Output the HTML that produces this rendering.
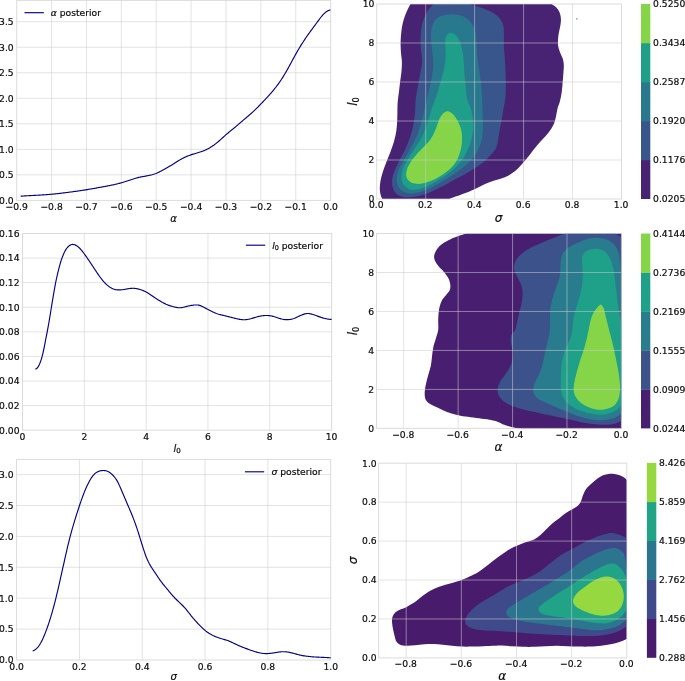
<!DOCTYPE html>
<html lang="en"><head><meta charset="utf-8"><title>Posterior distributions</title>
<style>html,body{margin:0;padding:0;background:#fff;overflow:hidden}svg{display:block}text{font-family:"DejaVu Sans", "Liberation Sans", sans-serif;fill:#0c0c0c;stroke:#0c0c0c;stroke-width:0.2px}</style>
</head><body>
<svg width="685" height="681" viewBox="0 0 685 681">
<rect width="685" height="681" fill="#fff"/>
<line x1="51.58" y1="0.4" x2="51.58" y2="200.4" stroke="#cccccc" stroke-opacity="0.55"/>
<line x1="86.46" y1="0.4" x2="86.46" y2="200.4" stroke="#cccccc" stroke-opacity="0.55"/>
<line x1="121.33" y1="0.4" x2="121.33" y2="200.4" stroke="#cccccc" stroke-opacity="0.55"/>
<line x1="156.21" y1="0.4" x2="156.21" y2="200.4" stroke="#cccccc" stroke-opacity="0.55"/>
<line x1="191.09" y1="0.4" x2="191.09" y2="200.4" stroke="#cccccc" stroke-opacity="0.55"/>
<line x1="225.97" y1="0.4" x2="225.97" y2="200.4" stroke="#cccccc" stroke-opacity="0.55"/>
<line x1="260.84" y1="0.4" x2="260.84" y2="200.4" stroke="#cccccc" stroke-opacity="0.55"/>
<line x1="295.72" y1="0.4" x2="295.72" y2="200.4" stroke="#cccccc" stroke-opacity="0.55"/>
<line x1="16.7" y1="174.87" x2="330.6" y2="174.87" stroke="#cccccc" stroke-opacity="0.55"/>
<line x1="16.7" y1="149.34" x2="330.6" y2="149.34" stroke="#cccccc" stroke-opacity="0.55"/>
<line x1="16.7" y1="123.81" x2="330.6" y2="123.81" stroke="#cccccc" stroke-opacity="0.55"/>
<line x1="16.7" y1="98.28" x2="330.6" y2="98.28" stroke="#cccccc" stroke-opacity="0.55"/>
<line x1="16.7" y1="72.75" x2="330.6" y2="72.75" stroke="#cccccc" stroke-opacity="0.55"/>
<line x1="16.7" y1="47.22" x2="330.6" y2="47.22" stroke="#cccccc" stroke-opacity="0.55"/>
<line x1="16.7" y1="21.69" x2="330.6" y2="21.69" stroke="#cccccc" stroke-opacity="0.55"/>
<rect x="16.7" y="0.4" width="313.9" height="200" fill="none" stroke="#cccccc" stroke-opacity="0.7"/>
<clipPath id="c1"><rect x="16.7" y="0.4" width="313.9" height="200"/></clipPath>
<g clip-path="url(#c1)">
<polyline points="20.68,196.16 21.45,196.11 22.23,196.06 23.01,196.02 23.78,195.97 24.56,195.92 25.34,195.88 26.11,195.83 26.89,195.79 27.67,195.75 28.44,195.7 29.22,195.66 30,195.62 30.77,195.58 31.55,195.54 32.33,195.49 33.1,195.45 33.88,195.41 34.66,195.37 35.43,195.33 36.21,195.28 36.99,195.24 37.76,195.2 38.54,195.15 39.32,195.11 40.09,195.06 40.87,195.01 41.65,194.96 42.43,194.92 43.2,194.87 43.98,194.81 44.76,194.76 45.53,194.71 46.31,194.65 47.09,194.59 47.86,194.53 48.64,194.47 49.42,194.41 50.19,194.34 50.97,194.28 51.75,194.21 52.52,194.13 53.3,194.06 54.08,193.99 54.85,193.91 55.63,193.83 56.41,193.75 57.18,193.66 57.96,193.58 58.74,193.49 59.51,193.4 60.29,193.31 61.07,193.22 61.84,193.13 62.62,193.04 63.4,192.94 64.17,192.85 64.95,192.75 65.73,192.65 66.5,192.55 67.28,192.45 68.06,192.35 68.83,192.25 69.61,192.15 70.39,192.05 71.16,191.95 71.94,191.85 72.72,191.74 73.5,191.64 74.27,191.53 75.05,191.43 75.83,191.32 76.6,191.21 77.38,191.1 78.16,190.99 78.93,190.88 79.71,190.77 80.49,190.65 81.26,190.54 82.04,190.42 82.82,190.3 83.59,190.18 84.37,190.06 85.15,189.94 85.92,189.81 86.7,189.69 87.48,189.56 88.25,189.43 89.03,189.3 89.81,189.17 90.58,189.03 91.36,188.9 92.14,188.76 92.91,188.63 93.69,188.49 94.47,188.35 95.24,188.21 96.02,188.07 96.8,187.93 97.57,187.78 98.35,187.64 99.13,187.5 99.9,187.35 100.68,187.21 101.46,187.07 102.23,186.92 103.01,186.78 103.79,186.63 104.57,186.49 105.34,186.35 106.12,186.2 106.9,186.06 107.67,185.91 108.45,185.76 109.23,185.61 110,185.46 110.78,185.3 111.56,185.15 112.33,184.99 113.11,184.82 113.89,184.66 114.66,184.48 115.44,184.31 116.22,184.13 116.99,183.94 117.77,183.75 118.55,183.55 119.32,183.34 120.1,183.13 120.88,182.92 121.65,182.69 122.43,182.46 123.21,182.22 123.98,181.98 124.76,181.73 125.54,181.48 126.31,181.22 127.09,180.96 127.87,180.71 128.64,180.45 129.42,180.19 130.2,179.93 130.97,179.68 131.75,179.43 132.53,179.18 133.31,178.93 134.08,178.7 134.86,178.46 135.64,178.24 136.41,178.02 137.19,177.82 137.97,177.62 138.74,177.43 139.52,177.25 140.3,177.09 141.07,176.93 141.85,176.78 142.63,176.63 143.4,176.49 144.18,176.35 144.96,176.21 145.73,176.07 146.51,175.93 147.29,175.78 148.06,175.63 148.84,175.47 149.62,175.3 150.39,175.13 151.17,174.94 151.95,174.74 152.72,174.52 153.5,174.29 154.28,174.04 155.05,173.78 155.83,173.49 156.61,173.18 157.38,172.85 158.16,172.49 158.94,172.13 159.71,171.74 160.49,171.34 161.27,170.93 162.04,170.51 162.82,170.08 163.6,169.65 164.38,169.21 165.15,168.77 165.93,168.33 166.71,167.89 167.48,167.44 168.26,167 169.04,166.55 169.81,166.09 170.59,165.63 171.37,165.17 172.14,164.7 172.92,164.22 173.7,163.75 174.47,163.27 175.25,162.78 176.03,162.29 176.8,161.81 177.58,161.32 178.36,160.83 179.13,160.34 179.91,159.87 180.69,159.42 181.46,158.98 182.24,158.55 183.02,158.15 183.79,157.76 184.57,157.39 185.35,157.03 186.12,156.69 186.9,156.36 187.68,156.04 188.45,155.74 189.23,155.45 190.01,155.17 190.78,154.91 191.56,154.65 192.34,154.4 193.11,154.16 193.89,153.93 194.67,153.7 195.45,153.47 196.22,153.25 197,153.02 197.78,152.79 198.55,152.55 199.33,152.31 200.11,152.06 200.88,151.8 201.66,151.53 202.44,151.25 203.21,150.96 203.99,150.65 204.77,150.33 205.54,149.99 206.32,149.63 207.1,149.25 207.87,148.86 208.65,148.44 209.43,148.01 210.2,147.55 210.98,147.07 211.76,146.57 212.53,146.05 213.31,145.51 214.09,144.95 214.86,144.37 215.64,143.78 216.42,143.16 217.19,142.53 217.97,141.87 218.75,141.21 219.52,140.53 220.3,139.83 221.08,139.14 221.85,138.43 222.63,137.73 223.41,137.02 224.19,136.32 224.96,135.62 225.74,134.94 226.52,134.26 227.29,133.6 228.07,132.95 228.85,132.3 229.62,131.66 230.4,131.03 231.18,130.4 231.95,129.76 232.73,129.13 233.51,128.5 234.28,127.86 235.06,127.22 235.84,126.57 236.61,125.91 237.39,125.25 238.17,124.59 238.94,123.92 239.72,123.25 240.5,122.58 241.27,121.91 242.05,121.24 242.83,120.58 243.6,119.91 244.38,119.26 245.16,118.6 245.93,117.95 246.71,117.29 247.49,116.63 248.26,115.97 249.04,115.31 249.82,114.63 250.59,113.95 251.37,113.26 252.15,112.56 252.92,111.84 253.7,111.11 254.48,110.37 255.26,109.62 256.03,108.86 256.81,108.09 257.59,107.32 258.36,106.53 259.14,105.75 259.92,104.95 260.69,104.16 261.47,103.35 262.25,102.55 263.02,101.74 263.8,100.93 264.58,100.11 265.35,99.29 266.13,98.46 266.91,97.62 267.68,96.78 268.46,95.93 269.24,95.07 270.01,94.2 270.79,93.32 271.57,92.43 272.34,91.53 273.12,90.61 273.9,89.67 274.67,88.72 275.45,87.74 276.23,86.74 277,85.72 277.78,84.67 278.56,83.6 279.33,82.5 280.11,81.37 280.89,80.21 281.66,79.03 282.44,77.82 283.22,76.58 283.99,75.32 284.77,74.03 285.55,72.72 286.33,71.38 287.1,70.02 287.88,68.64 288.66,67.24 289.43,65.82 290.21,64.39 290.99,62.96 291.76,61.52 292.54,60.08 293.32,58.64 294.09,57.22 294.87,55.8 295.65,54.4 296.42,53.02 297.2,51.66 297.98,50.32 298.75,49 299.53,47.7 300.31,46.42 301.08,45.16 301.86,43.92 302.64,42.71 303.41,41.51 304.19,40.33 304.97,39.17 305.74,38.03 306.52,36.9 307.3,35.78 308.07,34.68 308.85,33.58 309.63,32.5 310.4,31.42 311.18,30.36 311.96,29.29 312.73,28.23 313.51,27.18 314.29,26.12 315.06,25.07 315.84,24.02 316.62,22.97 317.4,21.91 318.17,20.85 318.95,19.79 319.73,18.75 320.5,17.74 321.28,16.75 322.06,15.81 322.83,14.92 323.61,14.09 324.39,13.33 325.16,12.63 325.94,12.01 326.72,11.46 327.49,10.98 328.27,10.59 329.05,10.29 329.82,10.07 330.6,9.95" fill="none" stroke="#00008b" stroke-width="1.15" stroke-linejoin="round"/>
</g>
<text x="16.7" y="210.3" font-size="9.2" text-anchor="middle">−0.9</text>
<text x="51.58" y="210.3" font-size="9.2" text-anchor="middle">−0.8</text>
<text x="86.46" y="210.3" font-size="9.2" text-anchor="middle">−0.7</text>
<text x="121.33" y="210.3" font-size="9.2" text-anchor="middle">−0.6</text>
<text x="156.21" y="210.3" font-size="9.2" text-anchor="middle">−0.5</text>
<text x="191.09" y="210.3" font-size="9.2" text-anchor="middle">−0.4</text>
<text x="225.97" y="210.3" font-size="9.2" text-anchor="middle">−0.3</text>
<text x="260.84" y="210.3" font-size="9.2" text-anchor="middle">−0.2</text>
<text x="295.72" y="210.3" font-size="9.2" text-anchor="middle">−0.1</text>
<text x="330.6" y="210.3" font-size="9.2" text-anchor="middle">0.0</text>
<text x="13.7" y="203.75" font-size="9.2" text-anchor="end">0.0</text>
<text x="13.7" y="178.22" font-size="9.2" text-anchor="end">0.5</text>
<text x="13.7" y="152.69" font-size="9.2" text-anchor="end">1.0</text>
<text x="13.7" y="127.16" font-size="9.2" text-anchor="end">1.5</text>
<text x="13.7" y="101.63" font-size="9.2" text-anchor="end">2.0</text>
<text x="13.7" y="76.1" font-size="9.2" text-anchor="end">2.5</text>
<text x="13.7" y="50.57" font-size="9.2" text-anchor="end">3.0</text>
<text x="13.7" y="25.04" font-size="9.2" text-anchor="end">3.5</text>
<text x="173.65" y="221.8" font-size="10.1" text-anchor="middle"><tspan font-style="italic">α</tspan></text>
<line x1="24.5" y1="12.7" x2="43.8" y2="12.7" stroke="#00008b" stroke-width="1.15"/>
<text x="50.8" y="15.7" font-size="9.2" text-anchor="start"><tspan font-style="italic">α</tspan> posterior</text>
<line x1="84.32" y1="233.5" x2="84.32" y2="430.2" stroke="#cccccc" stroke-opacity="0.55"/>
<line x1="146.14" y1="233.5" x2="146.14" y2="430.2" stroke="#cccccc" stroke-opacity="0.55"/>
<line x1="207.96" y1="233.5" x2="207.96" y2="430.2" stroke="#cccccc" stroke-opacity="0.55"/>
<line x1="269.78" y1="233.5" x2="269.78" y2="430.2" stroke="#cccccc" stroke-opacity="0.55"/>
<line x1="22.5" y1="405.61" x2="331.6" y2="405.61" stroke="#cccccc" stroke-opacity="0.55"/>
<line x1="22.5" y1="381.02" x2="331.6" y2="381.02" stroke="#cccccc" stroke-opacity="0.55"/>
<line x1="22.5" y1="356.44" x2="331.6" y2="356.44" stroke="#cccccc" stroke-opacity="0.55"/>
<line x1="22.5" y1="331.85" x2="331.6" y2="331.85" stroke="#cccccc" stroke-opacity="0.55"/>
<line x1="22.5" y1="307.26" x2="331.6" y2="307.26" stroke="#cccccc" stroke-opacity="0.55"/>
<line x1="22.5" y1="282.68" x2="331.6" y2="282.68" stroke="#cccccc" stroke-opacity="0.55"/>
<line x1="22.5" y1="258.09" x2="331.6" y2="258.09" stroke="#cccccc" stroke-opacity="0.55"/>
<rect x="22.5" y="233.5" width="309.1" height="196.7" fill="none" stroke="#cccccc" stroke-opacity="0.7"/>
<polyline points="35.42,369.1 36.16,368.85 36.9,368.32 37.65,367.5 38.39,366.39 39.13,365 39.87,363.31 40.62,361.33 41.36,359.06 42.1,356.47 42.84,353.54 43.59,350.25 44.33,346.64 45.07,342.84 45.81,338.98 46.55,335.18 47.3,331.37 48.04,327.44 48.78,323.27 49.52,318.88 50.27,314.34 51.01,309.74 51.75,305.14 52.49,300.59 53.24,296.13 53.98,291.79 54.72,287.63 55.46,283.69 56.2,280.01 56.95,276.59 57.69,273.37 58.43,270.31 59.17,267.37 59.92,264.6 60.66,262.03 61.4,259.7 62.14,257.59 62.89,255.67 63.63,253.92 64.37,252.33 65.11,250.89 65.85,249.62 66.6,248.51 67.34,247.56 68.08,246.76 68.82,246.08 69.57,245.53 70.31,245.1 71.05,244.77 71.79,244.55 72.54,244.44 73.28,244.45 74.02,244.57 74.76,244.8 75.5,245.12 76.25,245.5 76.99,245.96 77.73,246.49 78.47,247.09 79.22,247.76 79.96,248.5 80.7,249.31 81.44,250.18 82.19,251.09 82.93,252.04 83.67,253.03 84.41,254.03 85.15,255.06 85.9,256.1 86.64,257.16 87.38,258.22 88.12,259.31 88.87,260.4 89.61,261.5 90.35,262.62 91.09,263.74 91.84,264.87 92.58,266 93.32,267.13 94.06,268.26 94.8,269.4 95.55,270.52 96.29,271.64 97.03,272.75 97.77,273.84 98.52,274.92 99.26,275.97 100,277 100.74,277.99 101.49,278.96 102.23,279.9 102.97,280.79 103.71,281.65 104.45,282.46 105.2,283.23 105.94,283.96 106.68,284.64 107.42,285.28 108.17,285.88 108.91,286.44 109.65,286.96 110.39,287.44 111.14,287.87 111.88,288.27 112.62,288.62 113.36,288.92 114.1,289.19 114.85,289.41 115.59,289.58 116.33,289.72 117.07,289.82 117.82,289.89 118.56,289.92 119.3,289.93 120.04,289.9 120.79,289.86 121.53,289.79 122.27,289.7 123.01,289.6 123.75,289.48 124.5,289.36 125.24,289.22 125.98,289.09 126.72,288.95 127.47,288.82 128.21,288.7 128.95,288.59 129.69,288.49 130.44,288.41 131.18,288.35 131.92,288.31 132.66,288.29 133.4,288.3 134.15,288.34 134.89,288.41 135.63,288.5 136.37,288.62 137.12,288.76 137.86,288.92 138.6,289.1 139.34,289.3 140.09,289.51 140.83,289.74 141.57,289.99 142.31,290.26 143.05,290.55 143.8,290.86 144.54,291.2 145.28,291.56 146.02,291.94 146.77,292.35 147.51,292.78 148.25,293.23 148.99,293.7 149.74,294.2 150.48,294.7 151.22,295.22 151.96,295.75 152.7,296.27 153.45,296.79 154.19,297.3 154.93,297.8 155.67,298.29 156.42,298.76 157.16,299.23 157.9,299.7 158.64,300.15 159.39,300.6 160.13,301.05 160.87,301.48 161.61,301.91 162.35,302.33 163.1,302.73 163.84,303.12 164.58,303.5 165.32,303.86 166.07,304.21 166.81,304.53 167.55,304.84 168.29,305.13 169.04,305.4 169.78,305.65 170.52,305.89 171.26,306.11 172,306.32 172.75,306.52 173.49,306.71 174.23,306.91 174.97,307.09 175.72,307.27 176.46,307.42 177.2,307.56 177.94,307.66 178.69,307.73 179.43,307.75 180.17,307.74 180.91,307.67 181.65,307.58 182.4,307.45 183.14,307.3 183.88,307.14 184.62,306.96 185.37,306.77 186.11,306.58 186.85,306.39 187.59,306.2 188.34,306.02 189.08,305.85 189.82,305.69 190.56,305.55 191.3,305.42 192.05,305.31 192.79,305.21 193.53,305.12 194.27,305.05 195.02,305 195.76,304.96 196.5,304.95 197.24,304.98 197.99,305.05 198.73,305.17 199.47,305.35 200.21,305.58 200.95,305.87 201.7,306.2 202.44,306.56 203.18,306.94 203.92,307.33 204.67,307.73 205.41,308.13 206.15,308.52 206.89,308.92 207.64,309.31 208.38,309.69 209.12,310.07 209.86,310.44 210.6,310.81 211.35,311.18 212.09,311.54 212.83,311.9 213.57,312.25 214.32,312.6 215.06,312.93 215.8,313.25 216.54,313.55 217.29,313.83 218.03,314.08 218.77,314.3 219.51,314.5 220.25,314.68 221,314.85 221.74,315.02 222.48,315.18 223.22,315.35 223.97,315.53 224.71,315.71 225.45,315.9 226.19,316.09 226.94,316.28 227.68,316.47 228.42,316.65 229.16,316.84 229.9,317.02 230.65,317.2 231.39,317.39 232.13,317.57 232.87,317.76 233.62,317.95 234.36,318.14 235.1,318.33 235.84,318.52 236.58,318.7 237.33,318.87 238.07,319.03 238.81,319.18 239.55,319.32 240.3,319.44 241.04,319.54 241.78,319.62 242.52,319.68 243.27,319.71 244.01,319.72 244.75,319.71 245.49,319.68 246.23,319.62 246.98,319.54 247.72,319.43 248.46,319.29 249.2,319.14 249.95,318.96 250.69,318.77 251.43,318.56 252.17,318.35 252.92,318.12 253.66,317.9 254.4,317.67 255.14,317.44 255.88,317.21 256.63,317 257.37,316.79 258.11,316.6 258.85,316.42 259.6,316.26 260.34,316.11 261.08,315.97 261.82,315.85 262.57,315.75 263.31,315.66 264.05,315.58 264.79,315.53 265.53,315.49 266.28,315.47 267.02,315.48 267.76,315.51 268.5,315.56 269.25,315.64 269.99,315.74 270.73,315.87 271.47,316.01 272.22,316.17 272.96,316.35 273.7,316.55 274.44,316.76 275.18,316.98 275.93,317.21 276.67,317.45 277.41,317.69 278.15,317.94 278.9,318.18 279.64,318.42 280.38,318.64 281.12,318.86 281.87,319.05 282.61,319.22 283.35,319.36 284.09,319.48 284.83,319.57 285.58,319.64 286.32,319.67 287.06,319.68 287.8,319.67 288.55,319.62 289.29,319.55 290.03,319.46 290.77,319.33 291.52,319.17 292.26,318.97 293,318.75 293.74,318.5 294.48,318.22 295.23,317.92 295.97,317.6 296.71,317.27 297.45,316.93 298.2,316.58 298.94,316.24 299.68,315.89 300.42,315.55 301.17,315.23 301.91,314.92 302.65,314.63 303.39,314.36 304.13,314.12 304.88,313.91 305.62,313.74 306.36,313.62 307.1,313.54 307.85,313.52 308.59,313.55 309.33,313.63 310.07,313.74 310.82,313.89 311.56,314.08 312.3,314.28 313.04,314.51 313.78,314.76 314.53,315.01 315.27,315.28 316.01,315.55 316.75,315.83 317.5,316.1 318.24,316.37 318.98,316.64 319.72,316.9 320.47,317.16 321.21,317.41 321.95,317.64 322.69,317.87 323.43,318.08 324.18,318.28 324.92,318.47 325.66,318.65 326.4,318.8 327.15,318.95 327.89,319.07 328.63,319.18 329.37,319.27 330.12,319.35 330.86,319.4 331.6,319.43" fill="none" stroke="#00008b" stroke-width="1.15" stroke-linejoin="round"/>
<text x="22.5" y="440.1" font-size="9.2" text-anchor="middle">0</text>
<text x="84.32" y="440.1" font-size="9.2" text-anchor="middle">2</text>
<text x="146.14" y="440.1" font-size="9.2" text-anchor="middle">4</text>
<text x="207.96" y="440.1" font-size="9.2" text-anchor="middle">6</text>
<text x="269.78" y="440.1" font-size="9.2" text-anchor="middle">8</text>
<text x="331.6" y="440.1" font-size="9.2" text-anchor="middle">10</text>
<text x="19.5" y="433.55" font-size="9.2" text-anchor="end">0.00</text>
<text x="19.5" y="408.96" font-size="9.2" text-anchor="end">0.02</text>
<text x="19.5" y="384.38" font-size="9.2" text-anchor="end">0.04</text>
<text x="19.5" y="359.79" font-size="9.2" text-anchor="end">0.06</text>
<text x="19.5" y="335.2" font-size="9.2" text-anchor="end">0.08</text>
<text x="19.5" y="310.61" font-size="9.2" text-anchor="end">0.10</text>
<text x="19.5" y="286.03" font-size="9.2" text-anchor="end">0.12</text>
<text x="19.5" y="261.44" font-size="9.2" text-anchor="end">0.14</text>
<text x="19.5" y="236.85" font-size="9.2" text-anchor="end">0.16</text>
<text x="177.05" y="451.8" font-size="10.1" text-anchor="middle"><tspan font-style="italic">l</tspan><tspan font-size="7.07" dy="1.6">0</tspan></text>
<line x1="245.9" y1="245.2" x2="265.2" y2="245.2" stroke="#00008b" stroke-width="1.15"/>
<text x="272.2" y="248.6" font-size="9.2" text-anchor="start"><tspan font-style="italic">l</tspan><tspan font-size="6.44" dy="1.5">0</tspan><tspan dy="-1.5"> posterior</tspan></text>
<line x1="79.42" y1="459.4" x2="79.42" y2="660" stroke="#cccccc" stroke-opacity="0.55"/>
<line x1="142.24" y1="459.4" x2="142.24" y2="660" stroke="#cccccc" stroke-opacity="0.55"/>
<line x1="205.06" y1="459.4" x2="205.06" y2="660" stroke="#cccccc" stroke-opacity="0.55"/>
<line x1="267.88" y1="459.4" x2="267.88" y2="660" stroke="#cccccc" stroke-opacity="0.55"/>
<line x1="16.6" y1="629.1" x2="330.7" y2="629.1" stroke="#cccccc" stroke-opacity="0.55"/>
<line x1="16.6" y1="598.2" x2="330.7" y2="598.2" stroke="#cccccc" stroke-opacity="0.55"/>
<line x1="16.6" y1="567.3" x2="330.7" y2="567.3" stroke="#cccccc" stroke-opacity="0.55"/>
<line x1="16.6" y1="536.4" x2="330.7" y2="536.4" stroke="#cccccc" stroke-opacity="0.55"/>
<line x1="16.6" y1="505.5" x2="330.7" y2="505.5" stroke="#cccccc" stroke-opacity="0.55"/>
<line x1="16.6" y1="474.6" x2="330.7" y2="474.6" stroke="#cccccc" stroke-opacity="0.55"/>
<rect x="16.6" y="459.4" width="314.1" height="200.6" fill="none" stroke="#cccccc" stroke-opacity="0.7"/>
<polyline points="32.71,650.85 33.46,650.62 34.21,650.29 34.95,649.85 35.7,649.31 36.45,648.66 37.19,647.91 37.94,647.05 38.69,646.08 39.43,645.01 40.18,643.82 40.93,642.53 41.68,641.14 42.42,639.63 43.17,638.02 43.92,636.31 44.66,634.52 45.41,632.64 46.16,630.67 46.9,628.64 47.65,626.53 48.4,624.35 49.14,622.09 49.89,619.76 50.64,617.36 51.38,614.88 52.13,612.33 52.88,609.69 53.62,606.98 54.37,604.17 55.12,601.28 55.87,598.3 56.61,595.22 57.36,592.07 58.11,588.85 58.85,585.59 59.6,582.28 60.35,578.96 61.09,575.62 61.84,572.29 62.59,568.95 63.33,565.62 64.08,562.29 64.83,558.98 65.57,555.67 66.32,552.39 67.07,549.15 67.81,545.96 68.56,542.84 69.31,539.8 70.06,536.86 70.8,534.03 71.55,531.3 72.3,528.65 73.04,526.08 73.79,523.57 74.54,521.1 75.28,518.67 76.03,516.28 76.78,513.91 77.52,511.58 78.27,509.28 79.02,507.02 79.76,504.78 80.51,502.59 81.26,500.43 82,498.32 82.75,496.28 83.5,494.29 84.24,492.38 84.99,490.54 85.74,488.78 86.49,487.09 87.23,485.48 87.98,483.95 88.73,482.48 89.47,481.09 90.22,479.77 90.97,478.54 91.71,477.39 92.46,476.34 93.21,475.39 93.95,474.54 94.7,473.8 95.45,473.16 96.19,472.61 96.94,472.14 97.69,471.75 98.43,471.42 99.18,471.15 99.93,470.93 100.68,470.76 101.42,470.64 102.17,470.56 102.92,470.52 103.66,470.53 104.41,470.57 105.16,470.65 105.9,470.79 106.65,470.99 107.4,471.26 108.14,471.59 108.89,471.99 109.64,472.47 110.38,473.01 111.13,473.61 111.88,474.26 112.62,474.97 113.37,475.74 114.12,476.57 114.87,477.49 115.61,478.49 116.36,479.62 117.11,480.86 117.85,482.25 118.6,483.76 119.35,485.38 120.09,487.07 120.84,488.81 121.59,490.58 122.33,492.34 123.08,494.09 123.83,495.83 124.57,497.56 125.32,499.29 126.07,501.01 126.81,502.72 127.56,504.44 128.31,506.16 129.05,507.89 129.8,509.65 130.55,511.42 131.3,513.22 132.04,515.06 132.79,516.94 133.54,518.87 134.28,520.85 135.03,522.89 135.78,524.99 136.52,527.16 137.27,529.39 138.02,531.69 138.76,534.03 139.51,536.41 140.26,538.81 141,541.23 141.75,543.64 142.5,546.04 143.24,548.39 143.99,550.68 144.74,552.88 145.49,554.97 146.23,556.93 146.98,558.75 147.73,560.44 148.47,562.02 149.22,563.5 149.97,564.87 150.71,566.16 151.46,567.37 152.21,568.52 152.95,569.63 153.7,570.72 154.45,571.8 155.19,572.88 155.94,573.99 156.69,575.11 157.43,576.24 158.18,577.36 158.93,578.47 159.68,579.56 160.42,580.63 161.17,581.65 161.92,582.64 162.66,583.6 163.41,584.53 164.16,585.45 164.9,586.35 165.65,587.25 166.4,588.15 167.14,589.05 167.89,589.96 168.64,590.87 169.38,591.78 170.13,592.69 170.88,593.58 171.62,594.46 172.37,595.32 173.12,596.16 173.86,596.97 174.61,597.76 175.36,598.53 176.11,599.28 176.85,600.02 177.6,600.74 178.35,601.45 179.09,602.16 179.84,602.86 180.59,603.56 181.33,604.27 182.08,604.99 182.83,605.73 183.57,606.5 184.32,607.29 185.07,608.12 185.81,608.99 186.56,609.9 187.31,610.84 188.05,611.79 188.8,612.75 189.55,613.72 190.3,614.68 191.04,615.63 191.79,616.55 192.54,617.45 193.28,618.34 194.03,619.2 194.78,620.05 195.52,620.88 196.27,621.7 197.02,622.51 197.76,623.32 198.51,624.11 199.26,624.9 200,625.67 200.75,626.43 201.5,627.17 202.24,627.89 202.99,628.59 203.74,629.26 204.49,629.9 205.23,630.52 205.98,631.11 206.73,631.67 207.47,632.21 208.22,632.72 208.97,633.21 209.71,633.68 210.46,634.12 211.21,634.54 211.95,634.94 212.7,635.32 213.45,635.69 214.19,636.03 214.94,636.36 215.69,636.68 216.43,636.98 217.18,637.27 217.93,637.55 218.67,637.82 219.42,638.08 220.17,638.32 220.92,638.56 221.66,638.79 222.41,639 223.16,639.21 223.9,639.42 224.65,639.63 225.4,639.85 226.14,640.07 226.89,640.31 227.64,640.56 228.38,640.83 229.13,641.13 229.88,641.44 230.62,641.77 231.37,642.11 232.12,642.45 232.86,642.81 233.61,643.17 234.36,643.52 235.11,643.88 235.85,644.23 236.6,644.58 237.35,644.93 238.09,645.27 238.84,645.61 239.59,645.94 240.33,646.26 241.08,646.57 241.83,646.88 242.57,647.18 243.32,647.48 244.07,647.77 244.81,648.06 245.56,648.34 246.31,648.62 247.05,648.89 247.8,649.16 248.55,649.43 249.3,649.69 250.04,649.95 250.79,650.21 251.54,650.47 252.28,650.72 253.03,650.97 253.78,651.22 254.52,651.46 255.27,651.69 256.02,651.92 256.76,652.14 257.51,652.35 258.26,652.54 259,652.72 259.75,652.89 260.5,653.04 261.24,653.18 261.99,653.3 262.74,653.4 263.48,653.48 264.23,653.54 264.98,653.58 265.73,653.6 266.47,653.6 267.22,653.58 267.97,653.55 268.71,653.5 269.46,653.43 270.21,653.35 270.95,653.26 271.7,653.17 272.45,653.06 273.19,652.95 273.94,652.83 274.69,652.71 275.43,652.59 276.18,652.47 276.93,652.35 277.67,652.23 278.42,652.12 279.17,652.02 279.92,651.93 280.66,651.85 281.41,651.79 282.16,651.75 282.9,651.72 283.65,651.72 284.4,651.74 285.14,651.78 285.89,651.84 286.64,651.92 287.38,652.02 288.13,652.14 288.88,652.27 289.62,652.41 290.37,652.57 291.12,652.74 291.86,652.92 292.61,653.11 293.36,653.31 294.11,653.51 294.85,653.71 295.6,653.92 296.35,654.13 297.09,654.33 297.84,654.53 298.59,654.73 299.33,654.91 300.08,655.09 300.83,655.26 301.57,655.42 302.32,655.56 303.07,655.69 303.81,655.81 304.56,655.92 305.31,656.02 306.05,656.12 306.8,656.21 307.55,656.3 308.29,656.38 309.04,656.47 309.79,656.55 310.54,656.62 311.28,656.7 312.03,656.77 312.78,656.83 313.52,656.89 314.27,656.95 315.02,657 315.76,657.04 316.51,657.08 317.26,657.12 318,657.16 318.75,657.19 319.5,657.22 320.24,657.25 320.99,657.29 321.74,657.32 322.48,657.35 323.23,657.39 323.98,657.42 324.73,657.46 325.47,657.5 326.22,657.54 326.97,657.58 327.71,657.63 328.46,657.68 329.21,657.73 329.95,657.78 330.7,657.84" fill="none" stroke="#00008b" stroke-width="1.15" stroke-linejoin="round"/>
<text x="16.6" y="669.9" font-size="9.2" text-anchor="middle">0.0</text>
<text x="79.42" y="669.9" font-size="9.2" text-anchor="middle">0.2</text>
<text x="142.24" y="669.9" font-size="9.2" text-anchor="middle">0.4</text>
<text x="205.06" y="669.9" font-size="9.2" text-anchor="middle">0.6</text>
<text x="267.88" y="669.9" font-size="9.2" text-anchor="middle">0.8</text>
<text x="330.7" y="669.9" font-size="9.2" text-anchor="middle">1.0</text>
<text x="13.6" y="663.35" font-size="9.2" text-anchor="end">0.0</text>
<text x="13.6" y="632.45" font-size="9.2" text-anchor="end">0.5</text>
<text x="13.6" y="601.55" font-size="9.2" text-anchor="end">1.0</text>
<text x="13.6" y="570.65" font-size="9.2" text-anchor="end">1.5</text>
<text x="13.6" y="539.75" font-size="9.2" text-anchor="end">2.0</text>
<text x="13.6" y="508.85" font-size="9.2" text-anchor="end">2.5</text>
<text x="13.6" y="477.95" font-size="9.2" text-anchor="end">3.0</text>
<text x="173.65" y="680.3" font-size="10.1" text-anchor="middle"><tspan font-style="italic">σ</tspan></text>
<line x1="244.9" y1="471.8" x2="264.2" y2="471.8" stroke="#00008b" stroke-width="1.15"/>
<text x="271.5" y="474.8" font-size="9.2" text-anchor="start"><tspan font-style="italic">σ</tspan> posterior</text>
<clipPath id="c2"><rect x="376.7" y="4" width="244.8" height="195"/></clipPath>
<g clip-path="url(#c2)">
<path d="M413.5 -2C413 -1 411.45 2.12 410.5 4C409.55 5.88 408.72 7.35 407.8 9.3C406.88 11.25 405.83 13.42 405 15.7C404.17 17.98 403.4 20.42 402.8 23C402.2 25.58 401.77 27.92 401.4 31.2C401.03 34.48 400.67 39.05 400.6 42.7C400.53 46.35 400.78 49.85 401 53.1C401.22 56.35 401.83 59 401.9 62.2C401.97 65.4 401.7 69.05 401.4 72.3C401.1 75.55 400.5 78.52 400.1 81.7C399.7 84.88 399.4 88.02 399 91.4C398.6 94.78 397.97 98.75 397.7 102C397.43 105.25 397.48 107.8 397.4 110.9C397.32 114 397.38 117.25 397.2 120.6C397.02 123.95 396.82 127.58 396.3 131C395.78 134.42 395.08 137.6 394.1 141.1C393.12 144.6 391.68 148.52 390.4 152C389.12 155.48 387.67 158.65 386.4 162C385.13 165.35 383.8 168.9 382.8 172.1C381.8 175.3 380.9 178.32 380.4 181.2C379.9 184.08 379.72 186.97 379.8 189.4C379.88 191.83 380.5 194.25 380.9 195.8C381.3 197.35 381.52 197.33 382.2 198.7C382.88 200.07 384.53 203.12 385 204L436 203.5C438.3 202.7 446.27 199.93 449.8 198.7C453.33 197.47 454.72 197 457.2 196.1C459.68 195.2 461.8 194.45 464.7 193.3C467.6 192.15 471.3 190.7 474.6 189.2C477.9 187.7 481.2 185.75 484.5 184.3C487.8 182.85 490.98 181.68 494.4 180.5C497.82 179.32 502.13 178.38 505 177.2C507.87 176.02 509.43 174.87 511.6 173.4C513.77 171.93 515.97 170.3 518 168.4C520.03 166.5 521.83 164.28 523.8 162C525.77 159.72 527.73 157.28 529.8 154.7C531.87 152.12 534.07 149.08 536.2 146.5C538.33 143.92 540.47 141.63 542.6 139.2C544.73 136.77 547.17 134.33 549 131.9C550.83 129.47 552.47 127.03 553.6 124.6C554.73 122.17 555.13 120.03 555.8 117.3C556.47 114.57 556.9 110.92 557.6 108.2C558.3 105.48 559.3 103.8 560 101C560.7 98.2 561.35 94.62 561.8 91.4C562.25 88.18 562.43 84.73 562.7 81.7C562.97 78.67 563.22 75.98 563.4 73.2C563.58 70.42 563.92 67.43 563.8 65C563.68 62.57 563.33 60.73 562.7 58.6C562.07 56.47 560.77 54.33 560 52.2C559.23 50.07 558.42 48.08 558.1 45.8C557.78 43.52 557.95 40.78 558.1 38.5C558.25 36.22 558.6 34.38 559 32.1C559.4 29.82 560.18 27.08 560.5 24.8C560.82 22.52 561.08 20.53 560.9 18.4C560.72 16.27 560.17 13.82 559.4 12C558.63 10.18 557.58 8.83 556.3 7.5C555.02 6.17 553.42 5.58 551.7 4C549.98 2.42 546.95 -1 546 -2Z" fill="#482374"/>
<path d="M437 -3C436.38 -1.83 434.68 1.95 433.3 4C431.92 6.05 430.07 7.35 428.7 9.3C427.33 11.25 426.15 13.42 425.1 15.7C424.05 17.98 423.07 20.42 422.4 23C421.73 25.58 421.42 27.92 421.1 31.2C420.78 34.48 420.45 39.05 420.5 42.7C420.55 46.35 421.12 49.85 421.4 53.1C421.68 56.35 422.35 59 422.2 62.2C422.05 65.4 421.08 69.05 420.5 72.3C419.92 75.55 419.3 78.52 418.7 81.7C418.1 84.88 417.42 88.18 416.9 91.4C416.38 94.62 415.9 97.75 415.6 101C415.3 104.25 415.35 107.63 415.1 110.9C414.85 114.17 414.62 117.25 414.1 120.6C413.58 123.95 412.9 127.58 412 131C411.1 134.42 410.02 137.6 408.7 141.1C407.38 144.6 405.78 148.52 404.1 152C402.42 155.48 400.22 158.8 398.6 162C396.98 165.2 395.47 168.3 394.4 171.2C393.33 174.1 392.5 176.82 392.2 179.4C391.9 181.98 392.05 184.48 392.6 186.7C393.15 188.92 394.03 191.08 395.5 192.7C396.97 194.32 398.9 195.63 401.4 196.4C403.9 197.17 407.47 197.4 410.5 197.3C413.53 197.2 416.57 196.57 419.6 195.8C422.63 195.03 425.65 193.92 428.7 192.7C431.75 191.48 434.85 189.97 437.9 188.5C440.95 187.03 443.97 185.52 447 183.9C450.03 182.28 453.07 180.47 456.1 178.8C459.13 177.13 462.18 175.63 465.2 173.9C468.22 172.17 471.15 170.38 474.2 168.4C477.25 166.42 480.73 164.28 483.5 162C486.27 159.72 488.67 157.13 490.8 154.7C492.93 152.27 494.9 151.05 496.3 147.4C497.7 143.75 498.32 137.35 499.2 132.8C500.08 128.25 500.9 124.05 501.6 120.1C502.3 116.15 502.83 112.28 503.4 109.1C503.97 105.92 504.63 103.65 505 101C505.37 98.35 505.47 96.02 505.6 93.2C505.73 90.38 505.8 87.13 505.8 84.1C505.8 81.07 505.7 78.03 505.6 75C505.5 71.97 505.35 68.95 505.2 65.9C505.05 62.85 504.92 59.75 504.7 56.7C504.48 53.65 504.03 50.63 503.9 47.6C503.77 44.57 503.92 41.53 503.9 38.5C503.88 35.47 504.03 31.98 503.8 29.4C503.57 26.82 503.18 24.83 502.5 23C501.82 21.17 500.62 19.62 499.7 18.4C498.78 17.18 498.48 16.85 497 15.7C495.52 14.55 493.05 12.72 490.8 11.5C488.55 10.28 485.93 9.32 483.5 8.4C481.07 7.48 478.63 6.73 476.2 6C473.77 5.27 471.93 4.75 468.9 4C465.87 3.25 461.15 2.67 458 1.5C454.85 0.33 451.33 -2.25 450 -3Z" fill="#39568c"/>
<path d="M426.5 101C427.25 97.75 427.97 94.62 428.7 91.4C429.43 88.18 430.22 84.88 430.9 81.7C431.58 78.52 432.4 75.55 432.8 72.3C433.2 69.05 433.37 65.4 433.3 62.2C433.23 59 432.73 56.35 432.4 53.1C432.07 49.85 431.52 46.05 431.3 42.7C431.08 39.35 430.92 35.83 431.1 33C431.28 30.17 431.73 27.83 432.4 25.7C433.07 23.57 433.88 21.72 435.1 20.2C436.32 18.68 437.72 17.5 439.7 16.6C441.68 15.7 444.57 15.17 447 14.8C449.43 14.43 451.87 14.25 454.3 14.4C456.73 14.55 459.32 14.88 461.6 15.7C463.88 16.52 466.18 17.78 468 19.3C469.82 20.82 471.28 22.67 472.5 24.8C473.72 26.93 474.62 29.12 475.3 32.1C475.98 35.08 476.3 39.2 476.6 42.7C476.9 46.2 476.87 49.85 477.1 53.1C477.33 56.35 477.6 59 478 62.2C478.4 65.4 479.03 69.05 479.5 72.3C479.97 75.55 480.43 78.52 480.8 81.7C481.17 84.88 481.47 88.18 481.7 91.4C481.93 94.62 482.05 97.75 482.2 101C482.35 104.25 482.48 107.63 482.6 110.9C482.72 114.17 482.85 117.55 482.9 120.6C482.95 123.65 483.1 126.1 482.9 129.2C482.7 132.3 482.37 136 481.7 139.2C481.03 142.4 480.15 145.5 478.9 148.4C477.65 151.3 476.17 154.02 474.2 156.6C472.23 159.18 469.82 161.47 467.1 163.9C464.38 166.33 460.95 168.92 457.9 171.2C454.85 173.48 451.83 175.63 448.8 177.6C445.77 179.57 442.73 181.28 439.7 183C436.67 184.72 433.65 186.47 430.6 187.9C427.55 189.33 424.3 190.68 421.4 191.6C418.5 192.52 415.78 193.22 413.2 193.4C410.62 193.58 408.02 193.37 405.9 192.7C403.78 192.03 401.92 190.87 400.5 189.4C399.08 187.93 398.02 185.87 397.4 183.9C396.78 181.93 396.6 179.87 396.8 177.6C397 175.33 397.6 172.9 398.6 170.3C399.6 167.7 401.12 165.05 402.8 162C404.48 158.95 406.75 155.48 408.7 152C410.65 148.52 412.83 144.6 414.5 141.1C416.17 137.6 417.48 134.42 418.7 131C419.92 127.58 420.88 123.95 421.8 120.6C422.72 117.25 423.42 114.17 424.2 110.9C424.98 107.63 425.75 104.25 426.5 101Z" fill="#29798e"/>
<path d="M434.6 101C435.67 98.05 436.9 94.62 437.9 91.4C438.9 88.18 439.7 84.88 440.6 81.7C441.5 78.52 442.53 75.55 443.3 72.3C444.07 69.05 444.8 65.4 445.2 62.2C445.6 59 445.7 56.35 445.7 53.1C445.7 49.85 445.13 45.43 445.2 42.7C445.27 39.97 445.5 38.25 446.1 36.7C446.7 35.15 447.88 34.02 448.8 33.4C449.72 32.78 450.53 32.77 451.6 33C452.67 33.23 453.98 33.73 455.2 34.8C456.42 35.87 457.9 37.57 458.9 39.4C459.9 41.23 460.53 43.52 461.2 45.8C461.87 48.08 462.47 50.37 462.9 53.1C463.33 55.83 463.57 59 463.8 62.2C464.03 65.4 464.07 69.05 464.3 72.3C464.53 75.55 464.88 78.52 465.2 81.7C465.52 84.88 465.78 88.18 466.2 91.4C466.62 94.62 467 98.35 467.7 101C468.4 103.65 469.6 104.73 470.4 107.3C471.2 109.87 471.98 113.37 472.5 116.4C473.02 119.43 473.5 122.45 473.5 125.5C473.5 128.55 473.12 131.5 472.5 134.7C471.88 137.9 471.02 141.37 469.8 144.7C468.58 148.03 466.87 151.65 465.2 154.7C463.53 157.75 461.92 160.4 459.8 163C457.68 165.6 455.08 168.03 452.5 170.3C449.92 172.57 447.2 174.63 444.3 176.6C441.4 178.57 438.15 180.42 435.1 182.1C432.05 183.78 428.88 185.48 426 186.7C423.12 187.92 420.38 188.95 417.8 189.4C415.22 189.85 412.57 189.85 410.5 189.4C408.43 188.95 406.77 187.92 405.4 186.7C404.03 185.48 402.97 183.78 402.3 182.1C401.63 180.42 401.32 178.73 401.4 176.6C401.48 174.47 401.9 171.88 402.8 169.3C403.7 166.72 405.07 164.13 406.8 161.1C408.53 158.07 411.07 154.43 413.2 151.1C415.33 147.77 417.68 144.45 419.6 141.1C421.52 137.75 423.23 134.42 424.7 131C426.17 127.58 427.27 124.25 428.4 120.6C429.53 116.95 430.47 112.37 431.5 109.1C432.53 105.83 433.53 103.95 434.6 101Z" fill="#1f9e89"/>
<path d="M447.9 111.3C449.12 111.6 451.13 112.55 452.5 113.7C453.87 114.85 454.95 116.38 456.1 118.2C457.25 120.02 458.48 122.32 459.4 124.6C460.32 126.88 461.15 129.47 461.6 131.9C462.05 134.33 462.17 136.62 462.1 139.2C462.03 141.78 461.73 144.65 461.2 147.4C460.67 150.15 459.9 153.1 458.9 155.7C457.9 158.3 456.73 160.73 455.2 163C453.67 165.27 451.83 167.33 449.7 169.3C447.57 171.27 444.98 173.12 442.4 174.8C439.82 176.48 436.93 178.12 434.2 179.4C431.47 180.68 428.58 181.75 426 182.5C423.42 183.25 420.98 183.82 418.7 183.9C416.42 183.98 414.03 183.6 412.3 183C410.57 182.4 409.3 181.42 408.3 180.3C407.3 179.18 406.6 177.82 406.3 176.3C406 174.78 406.05 173.12 406.5 171.2C406.95 169.28 407.88 166.93 409 164.8C410.12 162.67 411.58 160.53 413.2 158.4C414.82 156.27 416.72 154.13 418.7 152C420.68 149.87 423.12 147.73 425.1 145.6C427.08 143.47 429.08 141.33 430.6 139.2C432.12 137.07 433.13 135.08 434.2 132.8C435.27 130.52 436.15 127.77 437 125.5C437.85 123.23 438.4 121.08 439.3 119.2C440.2 117.32 441.42 115.42 442.4 114.2C443.38 112.98 444.28 112.38 445.2 111.9C446.12 111.42 446.68 111 447.9 111.3Z" fill="#86d549"/>
<circle cx="576.9" cy="18.8" r="0.6" fill="#482374"/>
</g>
<line x1="425.66" y1="4" x2="425.66" y2="199" stroke="#cccccc" stroke-opacity="0.55"/>
<line x1="474.62" y1="4" x2="474.62" y2="199" stroke="#cccccc" stroke-opacity="0.55"/>
<line x1="523.58" y1="4" x2="523.58" y2="199" stroke="#cccccc" stroke-opacity="0.55"/>
<line x1="572.54" y1="4" x2="572.54" y2="199" stroke="#cccccc" stroke-opacity="0.55"/>
<line x1="376.7" y1="160" x2="621.5" y2="160" stroke="#cccccc" stroke-opacity="0.55"/>
<line x1="376.7" y1="121" x2="621.5" y2="121" stroke="#cccccc" stroke-opacity="0.55"/>
<line x1="376.7" y1="82" x2="621.5" y2="82" stroke="#cccccc" stroke-opacity="0.55"/>
<line x1="376.7" y1="43" x2="621.5" y2="43" stroke="#cccccc" stroke-opacity="0.55"/>
<rect x="376.7" y="4" width="244.8" height="195" fill="none" stroke="#cccccc" stroke-opacity="0.7"/>
<text x="376.3" y="208.4" font-size="9.2" text-anchor="middle">0.0</text>
<text x="425.26" y="208.4" font-size="9.2" text-anchor="middle">0.2</text>
<text x="474.22" y="208.4" font-size="9.2" text-anchor="middle">0.4</text>
<text x="523.18" y="208.4" font-size="9.2" text-anchor="middle">0.6</text>
<text x="572.14" y="208.4" font-size="9.2" text-anchor="middle">0.8</text>
<text x="621.1" y="208.4" font-size="9.2" text-anchor="middle">1.0</text>
<text x="374.4" y="202.35" font-size="9.2" text-anchor="end">0</text>
<text x="374.4" y="163.35" font-size="9.2" text-anchor="end">2</text>
<text x="374.4" y="124.35" font-size="9.2" text-anchor="end">4</text>
<text x="374.4" y="85.35" font-size="9.2" text-anchor="end">6</text>
<text x="374.4" y="46.35" font-size="9.2" text-anchor="end">8</text>
<text x="374.4" y="7.35" font-size="9.2" text-anchor="end">10</text>
<text x="498.5" y="221.9" font-size="12.0" text-anchor="middle"><tspan font-style="italic">σ</tspan></text>
<text transform="translate(357 101.5) rotate(-90)" font-size="12.0" text-anchor="middle"><tspan font-style="italic">l</tspan><tspan font-size="8.4" dy="1.9">0</tspan></text>
<rect x="641" y="160" width="9.3" height="39" fill="#482374"/>
<rect x="641" y="121" width="9.3" height="39.3" fill="#39568c"/>
<rect x="641" y="82" width="9.3" height="39.3" fill="#29798e"/>
<rect x="641" y="43" width="9.3" height="39.3" fill="#1f9e89"/>
<rect x="641" y="4" width="9.3" height="39.3" fill="#86d549"/>
<text x="653.1" y="202.35" font-size="9.2" text-anchor="start">0.0205</text>
<text x="653.1" y="163.35" font-size="9.2" text-anchor="start">0.1176</text>
<text x="653.1" y="124.35" font-size="9.2" text-anchor="start">0.1920</text>
<text x="653.1" y="85.35" font-size="9.2" text-anchor="start">0.2587</text>
<text x="653.1" y="46.35" font-size="9.2" text-anchor="start">0.3434</text>
<text x="653.1" y="7.35" font-size="9.2" text-anchor="start">0.5250</text>
<clipPath id="c4"><rect x="376.5" y="233.5" width="244.9" height="194.9"/></clipPath>
<g clip-path="url(#c4)">
<path d="M474 230C472.7 230.57 468.57 232.47 466.2 233.4C463.83 234.33 462.4 234.63 459.8 235.6C457.2 236.57 453.5 237.83 450.6 239.2C447.7 240.57 444.67 242.13 442.4 243.8C440.13 245.47 438.37 247.23 437 249.2C435.63 251.17 434.52 253.62 434.2 255.6C433.88 257.58 434.33 259.27 435.1 261.1C435.87 262.93 437.27 264.72 438.8 266.6C440.33 268.48 442.68 270.43 444.3 272.4C445.92 274.37 447.5 276.33 448.5 278.4C449.5 280.47 450.1 282.82 450.3 284.8C450.5 286.78 450.4 288.62 449.7 290.3C449 291.98 447.32 293.38 446.1 294.9C444.88 296.42 443.4 297.73 442.4 299.4C441.4 301.07 440.7 302.92 440.1 304.9C439.5 306.88 439.12 308.72 438.8 311.3C438.48 313.88 438.3 317.28 438.2 320.4C438.1 323.52 438.57 327.05 438.2 330C437.83 332.95 436.82 335.23 436 338.1C435.18 340.97 433.97 344.15 433.3 347.2C432.63 350.25 432.4 353.35 432 356.4C431.6 359.45 431.5 362.47 430.9 365.5C430.3 368.53 429.22 371.57 428.4 374.6C427.58 377.63 426.62 380.8 426 383.7C425.38 386.6 424.78 389.4 424.7 392C424.62 394.6 424.67 397.33 425.5 399.3C426.33 401.27 427.63 402.38 429.7 403.8C431.77 405.22 435.02 406.43 437.9 407.8C440.78 409.17 443.97 410.83 447 412C450.03 413.17 453.07 414.03 456.1 414.8C459.13 415.57 461.85 416.08 465.2 416.6C468.55 417.12 472.55 417.45 476.2 417.9C479.85 418.35 484.07 418.82 487.1 419.3C490.13 419.78 492.58 420.37 494.4 420.8C496.22 421.23 496.35 421.23 498 421.9C499.65 422.57 501.88 423.92 504.3 424.8C506.72 425.68 510.07 426.58 512.5 427.2C514.93 427.82 515.98 427.87 518.9 428.5C521.82 429.13 526.48 429.08 530 431C533.52 432.92 538.33 438.5 540 440L635 440L635 220Z" fill="#481f70"/>
<path d="M572 230C570.75 230.57 566.97 232.32 564.5 233.4C562.03 234.48 559.93 235.38 557.2 236.5C554.47 237.62 551.13 238.83 548.1 240.1C545.07 241.37 542.05 242.73 539 244.1C535.95 245.47 532.55 246.83 529.8 248.3C527.05 249.77 524.62 251.22 522.5 252.9C520.38 254.58 518.47 256.42 517.1 258.4C515.73 260.38 514.77 262.83 514.3 264.8C513.83 266.77 513.83 268.23 514.3 270.2C514.77 272.17 516.08 274.47 517.1 276.6C518.12 278.73 519.5 280.72 520.4 283C521.3 285.28 522.15 287.87 522.5 290.3C522.85 292.73 522.73 295.17 522.5 297.6C522.27 300.03 521.63 302.47 521.1 304.9C520.57 307.33 519.92 309.62 519.3 312.2C518.68 314.78 518.08 317.43 517.4 320.4C516.72 323.37 516.17 327.65 515.2 330C514.23 332.35 512.35 332.85 511.6 334.5C510.85 336.15 510.7 337.93 510.7 339.9C510.7 341.87 511.2 344.17 511.6 346.3C512 348.43 512.95 350.42 513.1 352.7C513.25 354.98 513.05 357.57 512.5 360C511.95 362.43 511.02 364.87 509.8 367.3C508.58 369.73 506.73 372.32 505.2 374.6C503.67 376.88 501.82 378.87 500.6 381C499.38 383.13 498.35 385.42 497.9 387.4C497.45 389.38 497.45 391.08 497.9 392.9C498.35 394.72 499.23 396.63 500.6 398.3C501.97 399.97 503.67 401.43 506.1 402.9C508.53 404.37 511.85 405.88 515.2 407.1C518.55 408.32 522.23 409.23 526.2 410.2C530.17 411.17 534.75 411.98 539 412.9C543.25 413.82 547.15 414.72 551.7 415.7C556.25 416.68 561.73 417.8 566.3 418.8C570.87 419.8 574.83 420.85 579.1 421.7C583.37 422.55 587.95 423.38 591.9 423.9C595.85 424.42 599.45 424.73 602.8 424.8C606.15 424.87 609.4 424.7 612 424.3C614.6 423.9 616.88 423.08 618.4 422.4C619.92 421.72 620.17 421.1 621.1 420.2C622.03 419.3 623.52 417.53 624 417L635 420L635 238.5L621.5 237.8L618.5 235.6L615.5 233.5L613 230Z" fill="#3b528b"/>
<path d="M625 323C624.43 322.5 622.27 321.83 621.6 320C620.93 318.17 621.12 315.33 621 312C620.88 308.67 620.92 304.5 620.9 300C620.88 295.5 620.9 289.63 620.9 285C620.9 280.37 620.95 274.95 620.9 272.2C620.85 269.45 620.75 270.37 620.6 268.5C620.45 266.63 620.3 263.48 620 261C619.7 258.52 619.42 255.87 618.8 253.6C618.18 251.33 617.43 249.27 616.3 247.4C615.17 245.53 613.75 243.75 612 242.4C610.25 241.05 607.87 240.02 605.8 239.3C603.73 238.58 601.88 238.32 599.6 238.1C597.32 237.88 594.45 237.75 592.1 238C589.75 238.25 587.67 238.88 585.5 239.6C583.33 240.32 581.38 241.3 579.1 242.3C576.82 243.3 573.93 244.45 571.8 245.6C569.67 246.75 567.82 247.83 566.3 249.2C564.78 250.57 563.6 251.97 562.7 253.8C561.8 255.63 561.3 257.92 560.9 260.2C560.5 262.48 560.45 265.07 560.3 267.5C560.15 269.93 560.37 272.37 560 274.8C559.63 277.23 558.87 279.67 558.1 282.1C557.33 284.53 556.3 286.82 555.4 289.4C554.5 291.98 553.47 294.87 552.7 297.6C551.93 300.33 551.27 302.92 550.8 305.8C550.33 308.68 550.05 310.87 549.9 314.9C549.75 318.93 550.13 326.13 549.9 330C549.67 333.87 549.1 335.23 548.5 338.1C547.9 340.97 547.03 344.15 546.3 347.2C545.57 350.25 544.77 353.35 544.1 356.4C543.43 359.45 543.15 362.47 542.3 365.5C541.45 368.53 540.22 371.72 539 374.6C537.78 377.48 535.98 380.37 535 382.8C534.02 385.23 533.2 387.22 533.1 389.2C533 391.18 533.42 393.02 534.4 394.7C535.38 396.38 536.72 397.78 539 399.3C541.28 400.82 544.77 402.28 548.1 403.8C551.43 405.32 555.35 406.88 559 408.4C562.65 409.92 566.35 411.47 570 412.9C573.65 414.33 577.25 415.87 580.9 417C584.55 418.13 588.25 419.17 591.9 419.7C595.55 420.23 599.45 420.35 602.8 420.2C606.15 420.05 609.4 419.55 612 418.8C614.6 418.05 616.88 416.68 618.4 415.7C619.92 414.72 620.17 414.02 621.1 412.9C622.03 411.78 623.52 409.65 624 409L635 412L635 323Z" fill="#287c8e"/>
<path d="M624 400C623.52 400.78 622.03 403.3 621.1 404.7C620.17 406.1 619.77 407.18 618.4 408.4C617.03 409.62 615.18 411 612.9 412C610.62 413 607.6 414 604.7 414.4C601.8 414.8 598.85 414.8 595.5 414.4C592.15 414 587.93 413 584.6 412C581.27 411 578.38 409.92 575.5 408.4C572.62 406.88 569.43 404.88 567.3 402.9C565.17 400.92 563.77 398.78 562.7 396.5C561.63 394.22 561.2 392.08 560.9 389.2C560.6 386.32 560.85 382.55 560.9 379.2C560.95 375.85 560.97 372.3 561.2 369.1C561.43 365.9 561.75 362.88 562.3 360C562.85 357.12 563.52 354.53 564.5 351.8C565.48 349.07 567.13 346.18 568.2 343.6C569.27 341.02 570.18 338.57 570.9 336.3C571.62 334.03 572.2 331.73 572.5 330C572.8 328.27 572.52 327.8 572.7 325.9C572.88 324 573.2 321.03 573.6 318.6C574 316.17 574.48 313.73 575.1 311.3C575.72 308.87 576.57 306.43 577.3 304C578.03 301.57 578.83 299.13 579.5 296.7C580.17 294.27 580.82 291.83 581.3 289.4C581.78 286.97 582.15 284.53 582.4 282.1C582.65 279.67 582.8 277.23 582.8 274.8C582.8 272.37 582.55 269.78 582.4 267.5C582.25 265.22 581.9 262.93 581.9 261.1C581.9 259.27 581.95 257.93 582.4 256.5C582.85 255.07 583.63 253.55 584.6 252.5C585.57 251.45 586.68 250.8 588.2 250.2C589.72 249.6 591.87 249.07 593.7 248.9C595.53 248.73 597.37 248.78 599.2 249.2C601.03 249.62 603.18 250.33 604.7 251.4C606.22 252.47 607.23 253.98 608.3 255.6C609.37 257.22 610.25 258.97 611.1 261.1C611.95 263.23 612.8 265.82 613.4 268.4C614 270.98 614.33 273.72 614.7 276.6C615.07 279.48 615.33 283.3 615.6 285.7C615.87 288.1 616.08 289.28 616.3 291C616.52 292.72 616.58 293.4 616.9 296C617.22 298.6 617.6 302.78 618.2 306.6C618.8 310.42 619.9 316.25 620.5 318.9C621.1 321.55 621.05 321.48 621.8 322.5C622.55 323.52 624.47 324.58 625 325L635 325L635 400Z" fill="#1fa088"/>
<path d="M601.1 304.8C601.83 305.3 602.97 306.53 603.7 308.3C604.43 310.07 604.77 312.45 605.5 315.4C606.23 318.35 607.22 322.48 608.1 326C608.98 329.52 609.83 332.68 610.8 336.5C611.77 340.32 612.97 344.78 613.9 348.9C614.83 353.02 615.6 357.1 616.4 361.2C617.2 365.3 618.12 369.68 618.7 373.5C619.28 377.32 619.7 381.15 619.9 384.1C620.1 387.05 620.1 388.85 619.9 391.2C619.7 393.55 619.48 396 618.7 398.2C617.92 400.4 616.82 402.73 615.2 404.4C613.58 406.07 611.5 407.32 609 408.2C606.5 409.08 603.28 409.75 600.2 409.7C597.12 409.65 593.58 408.93 590.5 407.9C587.42 406.87 584.13 405.27 581.7 403.5C579.27 401.73 577.22 399.35 575.9 397.3C574.58 395.25 574.1 393.4 573.8 391.2C573.5 389 573.67 387.05 574.1 384.1C574.53 381.15 575.43 377.32 576.4 373.5C577.37 369.68 578.72 365.02 579.9 361.2C581.08 357.38 582.42 354.12 583.5 350.6C584.58 347.08 585.53 343.62 586.4 340.1C587.27 336.58 588.02 332.73 588.7 329.5C589.38 326.27 589.77 323.35 590.5 320.7C591.23 318.05 592.07 315.67 593.1 313.6C594.13 311.53 595.67 309.68 596.7 308.3C597.73 306.92 598.57 305.88 599.3 305.3C600.03 304.72 600.37 304.3 601.1 304.8Z" fill="#86d549"/>

</g>
<line x1="403.71" y1="233.5" x2="403.71" y2="428.4" stroke="#cccccc" stroke-opacity="0.55"/>
<line x1="458.13" y1="233.5" x2="458.13" y2="428.4" stroke="#cccccc" stroke-opacity="0.55"/>
<line x1="512.56" y1="233.5" x2="512.56" y2="428.4" stroke="#cccccc" stroke-opacity="0.55"/>
<line x1="566.98" y1="233.5" x2="566.98" y2="428.4" stroke="#cccccc" stroke-opacity="0.55"/>
<line x1="376.5" y1="389.42" x2="621.4" y2="389.42" stroke="#cccccc" stroke-opacity="0.55"/>
<line x1="376.5" y1="350.44" x2="621.4" y2="350.44" stroke="#cccccc" stroke-opacity="0.55"/>
<line x1="376.5" y1="311.46" x2="621.4" y2="311.46" stroke="#cccccc" stroke-opacity="0.55"/>
<line x1="376.5" y1="272.48" x2="621.4" y2="272.48" stroke="#cccccc" stroke-opacity="0.55"/>
<rect x="376.5" y="233.5" width="244.9" height="194.9" fill="none" stroke="#cccccc" stroke-opacity="0.7"/>
<text x="403.31" y="437.8" font-size="9.2" text-anchor="middle">−0.8</text>
<text x="457.73" y="437.8" font-size="9.2" text-anchor="middle">−0.6</text>
<text x="512.16" y="437.8" font-size="9.2" text-anchor="middle">−0.4</text>
<text x="566.58" y="437.8" font-size="9.2" text-anchor="middle">−0.2</text>
<text x="621" y="437.8" font-size="9.2" text-anchor="middle">0.0</text>
<text x="374.2" y="431.75" font-size="9.2" text-anchor="end">0</text>
<text x="374.2" y="392.77" font-size="9.2" text-anchor="end">2</text>
<text x="374.2" y="353.79" font-size="9.2" text-anchor="end">4</text>
<text x="374.2" y="314.81" font-size="9.2" text-anchor="end">6</text>
<text x="374.2" y="275.83" font-size="9.2" text-anchor="end">8</text>
<text x="374.2" y="236.85" font-size="9.2" text-anchor="end">10</text>
<text x="498.35" y="451.3" font-size="12.0" text-anchor="middle"><tspan font-style="italic">α</tspan></text>
<text transform="translate(357 330.95) rotate(-90)" font-size="12.0" text-anchor="middle"><tspan font-style="italic">l</tspan><tspan font-size="8.4" dy="1.9">0</tspan></text>
<rect x="641" y="389.42" width="9.3" height="38.98" fill="#481f70"/>
<rect x="641" y="350.44" width="9.3" height="39.28" fill="#3b528b"/>
<rect x="641" y="311.46" width="9.3" height="39.28" fill="#287c8e"/>
<rect x="641" y="272.48" width="9.3" height="39.28" fill="#1fa088"/>
<rect x="641" y="233.5" width="9.3" height="39.28" fill="#86d549"/>
<text x="653.1" y="431.75" font-size="9.2" text-anchor="start">0.0244</text>
<text x="653.1" y="392.77" font-size="9.2" text-anchor="start">0.0909</text>
<text x="653.1" y="353.79" font-size="9.2" text-anchor="start">0.1555</text>
<text x="653.1" y="314.81" font-size="9.2" text-anchor="start">0.2169</text>
<text x="653.1" y="275.83" font-size="9.2" text-anchor="start">0.2736</text>
<text x="653.1" y="236.85" font-size="9.2" text-anchor="start">0.4144</text>
<clipPath id="c6"><rect x="378.6" y="463.2" width="248.2" height="194.7"/></clipPath>
<g clip-path="url(#c6)">
<path d="M630 483.5C629.47 482.9 627.83 480.93 626.8 479.9C625.77 478.87 624.98 478.07 623.8 477.3C622.62 476.53 621.3 475.85 619.7 475.3C618.1 474.75 616.05 474.22 614.2 474C612.35 473.78 610.47 473.78 608.6 474C606.73 474.22 604.85 474.53 603 475.3C601.15 476.07 599.35 477.27 597.5 478.6C595.65 479.93 593.77 481.6 591.9 483.3C590.03 485 587.78 486.8 586.3 488.8C584.82 490.8 583.87 493.28 583 495.3C582.13 497.32 581.93 499.2 581.1 500.9C580.27 502.6 579.45 504.12 578 505.5C576.55 506.88 574.42 507.95 572.4 509.2C570.38 510.45 567.88 511.67 565.9 513C563.92 514.33 562.37 515.77 560.5 517.2C558.63 518.63 556.65 520.02 554.7 521.6C552.75 523.18 550.75 524.88 548.8 526.7C546.85 528.52 544.7 530.85 543 532.5C541.3 534.15 540.07 535.43 538.6 536.6C537.13 537.77 535.9 538.67 534.2 539.5C532.5 540.33 530.58 540.87 528.4 541.6C526.22 542.33 523.53 542.98 521.1 543.9C518.67 544.82 516.23 545.88 513.8 547.1C511.37 548.32 508.93 549.67 506.5 551.2C504.07 552.73 501.63 554.55 499.2 556.3C496.77 558.05 494.33 559.82 491.9 561.7C489.47 563.58 487.03 565.77 484.6 567.6C482.17 569.43 479.73 571.27 477.3 572.7C474.87 574.13 472.63 574.98 470 576.2C467.37 577.42 464.8 578.78 461.5 580C458.2 581.22 453.93 582.37 450.2 583.5C446.47 584.63 442.5 585.57 439.1 586.8C435.7 588.03 432.58 589.35 429.8 590.9C427.02 592.45 424.87 594.25 422.4 596.1C419.93 597.95 417.63 600.2 415 602C412.37 603.8 409.23 605.57 406.6 606.9C403.97 608.23 401.2 608.95 399.2 610C397.2 611.05 395.75 611.97 394.6 613.2C393.45 614.43 392.72 615.77 392.3 617.4C391.88 619.03 391.97 620.98 392.1 623C392.23 625.02 392.68 627.33 393.1 629.5C393.52 631.67 394.05 633.98 394.6 636C395.15 638.02 395.48 640.15 396.4 641.6C397.32 643.05 398.4 644 400.1 644.7C401.8 645.4 404.12 645.7 406.6 645.8C409.08 645.9 412.07 645.55 415 645.3C417.93 645.05 421.12 644.52 424.2 644.3C427.28 644.08 430.4 643.93 433.5 644C436.6 644.07 439.7 644.4 442.8 644.7C445.9 645 448.98 645.48 452.1 645.8C455.22 646.12 458.1 646.47 461.5 646.6C464.9 646.73 468.82 646.67 472.5 646.6C476.18 646.53 479.9 646.33 483.6 646.2C487.3 646.07 491.63 645.9 494.7 645.8C497.77 645.7 499.1 645.53 502 645.6C504.9 645.67 508.55 646 512.1 646.2C515.65 646.4 519.58 646.7 523.3 646.8C527.02 646.9 530.7 646.9 534.4 646.8C538.1 646.7 541.78 646.37 545.5 646.2C549.22 646.03 552.98 645.8 556.7 645.8C560.42 645.8 564.1 646.07 567.8 646.2C571.5 646.33 575.18 646.53 578.9 646.6C582.62 646.67 586.38 646.73 590.1 646.6C593.82 646.47 597.8 646.18 601.2 645.8C604.6 645.42 607.72 644.85 610.5 644.3C613.28 643.75 615.75 643.12 617.9 642.5C620.05 641.88 621.92 641.17 623.4 640.6C624.88 640.03 625.7 639.62 626.8 639.1C627.9 638.58 629.47 637.77 630 637.5L640 639L640 480Z" fill="#481b6d"/>
<path d="M630 540.2C629.47 539.87 628.05 538.9 626.8 538.2C625.55 537.5 624.13 536.7 622.5 536C620.87 535.3 618.85 534.48 617 534C615.15 533.52 613.1 533.15 611.4 533.1C609.7 533.05 608.82 533.25 606.8 533.7C604.78 534.15 602.08 534.82 599.3 535.8C596.52 536.78 592.48 538.58 590.1 539.6C587.72 540.62 586.55 541.13 585 541.9C583.45 542.67 583.05 542.97 580.8 544.2C578.55 545.43 574.88 547.47 571.5 549.3C568.12 551.13 563.47 553.32 560.5 555.2C557.53 557.08 555.88 558.87 553.7 560.6C551.52 562.33 549.48 563.93 547.4 565.6C545.32 567.27 543.48 569.03 541.2 570.6C538.92 572.17 536.4 573.55 533.7 575C531 576.45 527.85 578.02 525 579.3C522.15 580.58 519.52 581.45 516.6 582.7C513.68 583.95 510.27 585.38 507.5 586.8C504.73 588.22 502.13 589.93 500 591.2C497.87 592.47 497.12 592.97 494.7 594.4C492.28 595.83 488.58 597.88 485.5 599.8C482.42 601.72 478.83 603.88 476.2 605.9C473.57 607.92 471.4 609.98 469.7 611.9C468 613.82 466.77 615.7 466 617.4C465.23 619.1 464.88 620.7 465.1 622.1C465.32 623.5 466.07 624.72 467.3 625.8C468.53 626.88 470.4 627.88 472.5 628.6C474.6 629.32 477.12 629.73 479.9 630.1C482.68 630.47 485.85 630.62 489.2 630.8C492.55 630.98 495.43 630.93 500 631.2C504.57 631.47 510.35 631.95 516.6 632.4C522.85 632.85 530.9 633.48 537.5 633.9C544.1 634.32 550.53 634.63 556.2 634.9C561.87 635.17 567.72 635.32 571.5 635.5C575.28 635.68 575.8 635.92 578.9 636C582 636.08 586.38 636.1 590.1 636C593.82 635.9 597.8 635.77 601.2 635.4C604.6 635.03 607.72 634.47 610.5 633.8C613.28 633.13 615.75 632.27 617.9 631.4C620.05 630.53 621.92 629.53 623.4 628.6C624.88 627.67 625.7 626.73 626.8 625.8C627.9 624.87 629.47 623.47 630 623L640 626L640 538Z" fill="#3e4a89"/>
<path d="M630 614C629.47 614.67 627.73 616.8 626.8 618C625.87 619.2 625.58 620.05 624.4 621.2C623.22 622.35 621.72 623.77 619.7 624.9C617.68 626.03 615.08 627.17 612.3 628C609.52 628.83 606.4 629.53 603 629.9C599.6 630.27 594.9 630.3 591.9 630.2C588.9 630.1 587.83 629.67 585 629.3C582.17 628.93 578.67 628.47 574.9 628C571.13 627.53 566.57 627.02 562.4 626.5C558.23 625.98 554.05 625.42 549.9 624.9C545.75 624.38 541.65 623.92 537.5 623.4C533.35 622.88 528.48 622.42 525 621.8C521.52 621.18 519.1 620.43 516.6 619.7C514.1 618.97 511.62 618.2 510 617.4C508.38 616.6 507.53 615.73 506.9 614.9C506.27 614.07 506.2 613.23 506.2 612.4C506.2 611.57 506.27 610.83 506.9 609.9C507.53 608.97 508.38 608.05 510 606.8C511.62 605.55 514.1 603.92 516.6 602.4C519.1 600.88 522.15 599.35 525 597.7C527.85 596.05 530.8 594.2 533.7 592.5C536.6 590.8 539.48 589.22 542.4 587.5C545.32 585.78 548.28 583.98 551.2 582.2C554.12 580.42 557.2 578.52 559.9 576.8C562.6 575.08 564.9 573.67 567.4 571.9C569.9 570.13 572.4 568.08 574.9 566.2C577.4 564.32 579.87 562.2 582.4 560.6C584.93 559 587.58 557.9 590.1 556.6C592.62 555.3 595.03 553.95 597.5 552.8C599.97 551.65 602.58 550.47 604.9 549.7C607.22 548.93 609.38 548.38 611.4 548.2C613.42 548.02 615.3 548.13 617 548.6C618.7 549.07 620.37 549.98 621.6 551C622.83 552.02 623.72 553.03 624.4 554.7C625.08 556.37 625.33 558.78 625.7 561C626.07 563.22 625.88 566.17 626.6 568C627.32 569.83 629.43 571.33 630 572L640 568L640 618Z" fill="#2b758e"/>
<path d="M630 604C629.47 604.85 627.9 607.38 626.8 609.1C625.7 610.82 624.73 612.75 623.4 614.3C622.07 615.85 620.65 617.17 618.8 618.4C616.95 619.63 614.62 620.87 612.3 621.7C609.98 622.53 607.68 623.18 604.9 623.4C602.12 623.62 598.92 623.37 595.6 623C592.28 622.63 588.45 621.82 585 621.2C581.55 620.58 578.25 619.87 574.9 619.3C571.55 618.73 568.02 618.22 564.9 617.8C561.78 617.38 558.9 617.18 556.2 616.8C553.5 616.42 551 615.98 548.7 615.5C546.4 615.02 543.97 614.52 542.4 613.9C540.83 613.28 539.95 612.57 539.3 611.8C538.65 611.03 538.55 610.03 538.5 609.3C538.45 608.57 538.55 608.13 539 607.4C539.45 606.67 540 605.93 541.2 604.9C542.4 603.87 544.12 602.65 546.2 601.2C548.28 599.75 551 597.97 553.7 596.2C556.4 594.43 559.43 592.52 562.4 590.6C565.37 588.68 568.58 586.58 571.5 584.7C574.42 582.82 577.65 580.75 579.9 579.3C582.15 577.85 583.3 577.07 585 576C586.7 574.93 587.72 574.25 590.1 572.9C592.48 571.55 596.52 569.28 599.3 567.9C602.08 566.52 604.63 565.32 606.8 564.6C608.97 563.88 610.6 563.55 612.3 563.6C614 563.65 615.45 563.97 617 564.9C618.55 565.83 620.28 567.55 621.6 569.2C622.92 570.85 624.03 573.1 624.9 574.8C625.77 576.5 625.95 577.7 626.8 579.4C627.65 581.1 629.47 584.07 630 585L640 609L640 579Z" fill="#20a386"/>
<path d="M573 601.2C572.97 600.17 573.17 599.25 573.7 598.1C574.23 596.95 575.17 595.55 576.2 594.3C577.23 593.05 578.43 591.85 579.9 590.6C581.37 589.35 583.3 588.08 585 586.8C586.7 585.52 588.02 584.25 590.1 582.9C592.18 581.55 595.18 579.72 597.5 578.7C599.82 577.68 602 577.12 604 576.8C606 576.48 607.65 576.43 609.5 576.8C611.35 577.17 613.4 577.88 615.1 579C616.8 580.12 618.47 581.82 619.7 583.5C620.93 585.18 621.82 587.15 622.5 589.1C623.18 591.05 623.65 593.27 623.8 595.2C623.95 597.13 623.77 598.85 623.4 600.7C623.03 602.55 622.52 604.6 621.6 606.3C620.68 608 619.45 609.6 617.9 610.9C616.35 612.2 614.32 613.32 612.3 614.1C610.28 614.88 607.97 615.35 605.8 615.6C603.63 615.85 601.62 615.88 599.3 615.6C596.98 615.32 594.28 614.6 591.9 613.9C589.52 613.2 586.8 612.1 585 611.4C583.2 610.7 582.47 610.4 581.1 609.7C579.73 609 578 608.1 576.8 607.2C575.6 606.3 574.53 605.3 573.9 604.3C573.27 603.3 573.03 602.23 573 601.2Z" fill="#95d840"/>

</g>
<line x1="406.18" y1="463.2" x2="406.18" y2="657.9" stroke="#cccccc" stroke-opacity="0.55"/>
<line x1="461.33" y1="463.2" x2="461.33" y2="657.9" stroke="#cccccc" stroke-opacity="0.55"/>
<line x1="516.49" y1="463.2" x2="516.49" y2="657.9" stroke="#cccccc" stroke-opacity="0.55"/>
<line x1="571.64" y1="463.2" x2="571.64" y2="657.9" stroke="#cccccc" stroke-opacity="0.55"/>
<line x1="378.6" y1="618.96" x2="626.8" y2="618.96" stroke="#cccccc" stroke-opacity="0.55"/>
<line x1="378.6" y1="580.02" x2="626.8" y2="580.02" stroke="#cccccc" stroke-opacity="0.55"/>
<line x1="378.6" y1="541.08" x2="626.8" y2="541.08" stroke="#cccccc" stroke-opacity="0.55"/>
<line x1="378.6" y1="502.14" x2="626.8" y2="502.14" stroke="#cccccc" stroke-opacity="0.55"/>
<rect x="378.6" y="463.2" width="248.2" height="194.7" fill="none" stroke="#cccccc" stroke-opacity="0.7"/>
<text x="405.78" y="667.3" font-size="9.2" text-anchor="middle">−0.8</text>
<text x="460.93" y="667.3" font-size="9.2" text-anchor="middle">−0.6</text>
<text x="516.09" y="667.3" font-size="9.2" text-anchor="middle">−0.4</text>
<text x="571.24" y="667.3" font-size="9.2" text-anchor="middle">−0.2</text>
<text x="626.4" y="667.3" font-size="9.2" text-anchor="middle">0.0</text>
<text x="376.7" y="661.25" font-size="9.2" text-anchor="end">0.0</text>
<text x="376.7" y="622.31" font-size="9.2" text-anchor="end">0.2</text>
<text x="376.7" y="583.37" font-size="9.2" text-anchor="end">0.4</text>
<text x="376.7" y="544.43" font-size="9.2" text-anchor="end">0.6</text>
<text x="376.7" y="505.49" font-size="9.2" text-anchor="end">0.8</text>
<text x="376.7" y="466.55" font-size="9.2" text-anchor="end">1.0</text>
<text x="502.1" y="680.2" font-size="12.0" text-anchor="middle"><tspan font-style="italic">α</tspan></text>
<text transform="translate(357 560.55) rotate(-90)" font-size="12.0" text-anchor="middle"><tspan font-style="italic">σ</tspan></text>
<rect x="646.9" y="618.82" width="9.4" height="38.98" fill="#481b6d"/>
<rect x="646.9" y="579.84" width="9.4" height="39.28" fill="#3e4a89"/>
<rect x="646.9" y="540.86" width="9.4" height="39.28" fill="#2b758e"/>
<rect x="646.9" y="501.88" width="9.4" height="39.28" fill="#20a386"/>
<rect x="646.9" y="462.9" width="9.4" height="39.28" fill="#95d840"/>
<text x="659" y="661.15" font-size="9.2" text-anchor="start">0.288</text>
<text x="659" y="622.17" font-size="9.2" text-anchor="start">1.456</text>
<text x="659" y="583.19" font-size="9.2" text-anchor="start">2.762</text>
<text x="659" y="544.21" font-size="9.2" text-anchor="start">4.169</text>
<text x="659" y="505.23" font-size="9.2" text-anchor="start">5.859</text>
<text x="659" y="466.25" font-size="9.2" text-anchor="start">8.426</text>
</svg></body></html>
